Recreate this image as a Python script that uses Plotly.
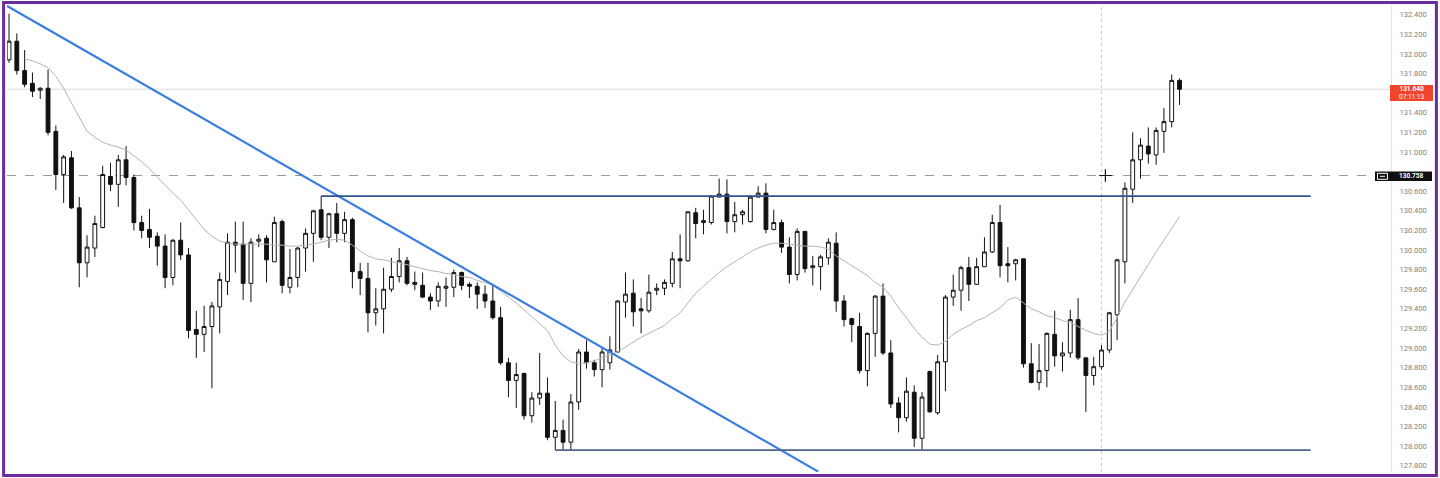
import plotly.graph_objects as go

# ---------------- data ----------------
opens = [131.94,132.13,131.83,131.70,131.63,131.65,131.21,130.77,130.94,130.43,
         129.87,130.02,130.23,130.75,130.67,130.92,130.74,130.28,130.21,130.14,
         130.04,129.72,130.10,129.95,129.19,129.14,129.22,129.42,129.68,130.08,
         130.06,129.66,130.09,130.12,129.88,130.29,129.62,129.72,130.02,130.17,
         130.41,130.13,130.37,130.17,130.31,129.78,129.71,129.36,129.40,129.60,
         129.73,129.89,129.67,129.64,129.52,129.48,129.61,129.62,129.77,129.65,
         129.63,129.55,129.48,129.31,128.85,128.67,128.74,128.31,128.49,128.54,
         128.09,128.16,128.04,128.45,128.96,128.85,128.78,128.85,128.96,129.47,
         129.56,129.40,129.38,129.59,129.61,129.66,129.91,129.89,130.38,130.28,
         130.28,130.54,130.57,130.29,130.36,130.29,130.54,130.58,130.21,130.28,
         130.03,129.75,130.19,129.82,129.83,129.92,130.07,129.48,129.30,129.22,
         128.77,129.15,129.53,128.95,128.44,128.29,128.55,128.08,128.76,128.34,
         128.86,129.52,129.59,129.82,129.65,129.83,129.98,130.28,129.86,129.86,
         129.91,128.84,128.65,128.77,129.14,128.92,128.95,129.29,128.90,128.72,
         128.81,128.98,129.34,129.88,130.62,130.92,131.06,130.97,131.21,131.31,
         131.73]
highs = [132.41,132.21,132.04,131.81,131.66,131.84,131.27,130.97,131.01,130.54,
         130.15,130.35,130.86,130.89,130.97,131.06,130.77,130.35,130.42,130.18,
         130.16,130.11,130.28,130.02,129.38,129.43,129.47,129.77,130.17,130.29,
         130.29,130.12,130.16,130.15,130.34,130.31,130.01,130.03,130.22,130.41,
         130.55,130.38,130.48,130.39,130.33,129.87,129.87,129.61,129.82,129.92,
         130.02,129.93,129.78,129.77,129.56,129.67,129.72,129.80,129.78,129.67,
         129.67,129.64,129.64,129.42,128.90,128.85,128.75,128.55,128.95,128.70,
         128.46,128.27,128.53,128.99,129.08,128.88,129.01,129.12,129.49,129.77,
         129.70,129.51,129.75,129.66,129.70,129.98,130.16,130.39,130.43,130.41,
         130.56,130.73,130.72,130.49,130.41,130.56,130.65,130.68,130.41,130.31,
         130.13,130.22,130.19,129.94,129.95,130.12,130.18,129.54,129.31,129.36,
         129.16,129.54,129.66,129.08,128.50,128.70,128.62,128.55,128.77,128.93,
         129.54,129.75,129.84,129.93,129.92,130.13,130.36,130.46,130.03,129.91,
         129.91,129.05,129.04,129.16,129.38,129.06,129.39,129.51,128.90,128.91,
         129.03,129.37,129.91,130.69,131.20,131.14,131.25,131.25,131.45,131.79,
         131.75]
lows = [131.91,131.79,131.66,131.56,131.54,131.17,130.61,130.48,130.42,129.62,
        129.72,129.93,130.22,130.60,130.44,130.66,130.20,130.12,130.02,129.84,
        129.61,129.64,129.90,129.10,128.90,128.96,128.59,129.15,129.54,129.77,
        129.49,129.47,130.03,129.67,129.88,129.56,129.56,129.62,129.78,129.88,
        130.10,130.02,130.08,130.08,129.61,129.54,129.16,129.23,129.15,129.57,
        129.67,129.64,129.59,129.51,129.39,129.42,129.42,129.52,129.59,129.51,
        129.40,129.41,129.29,128.83,128.50,128.39,128.27,128.24,128.42,128.06,
        127.96,127.96,127.96,128.37,128.79,128.71,128.60,128.78,128.95,129.31,
        129.22,129.15,129.36,129.54,129.54,129.62,129.61,129.88,130.12,130.16,
        130.26,130.54,130.17,130.18,130.26,130.28,130.54,130.17,130.20,129.97,
        129.66,129.69,129.77,129.64,129.59,129.85,129.37,129.22,129.06,128.74,
        128.61,128.91,128.93,128.39,128.14,128.25,127.99,127.96,128.34,128.32,
        128.56,129.43,129.38,129.48,129.65,129.83,129.97,129.72,129.67,129.69,
        128.80,128.64,128.57,128.60,128.81,128.76,128.90,128.88,128.35,128.62,
        128.78,128.95,129.08,129.66,130.48,130.73,130.88,130.87,130.99,131.25,
        131.48]
closes = [132.13,131.83,131.69,131.62,131.65,131.20,130.77,130.95,130.43,129.87,
          130.03,130.27,130.77,130.67,130.92,130.74,130.28,130.20,130.13,130.04,
          129.72,130.10,129.95,129.18,129.14,129.22,129.43,129.70,130.08,130.05,
          129.66,130.08,130.11,129.90,130.28,129.64,129.72,130.02,130.17,130.40,
          130.13,130.37,130.17,130.31,129.78,129.71,129.36,129.40,129.60,129.73,
          129.89,129.66,129.65,129.52,129.48,129.63,129.63,129.77,129.64,129.63,
          129.55,129.48,129.31,128.85,128.67,128.73,128.31,128.49,128.54,128.09,
          128.16,128.04,128.45,128.96,128.85,128.78,128.96,128.98,129.48,129.55,
          129.37,129.38,129.57,129.61,129.67,129.91,129.89,130.39,130.27,130.30,
          130.55,130.57,130.29,130.36,130.39,130.54,130.58,130.21,130.28,130.03,
          129.75,130.19,129.81,129.84,129.93,130.08,129.48,129.29,129.24,128.77,
          129.15,129.53,128.95,128.43,128.29,128.56,128.08,128.50,128.35,128.86,
          129.52,129.59,129.82,129.65,129.83,129.98,130.28,129.84,129.84,129.90,
          128.84,128.65,128.77,129.15,128.92,128.95,129.29,128.90,128.72,128.81,
          128.98,129.36,129.90,130.63,130.92,131.07,130.98,131.22,131.31,131.73,
          131.64]

# moving average (starts at candle index 2)
ma_start = 2
ma_values = [131.95,131.93,131.90,131.86,131.77,131.65,131.50,131.35,131.21,131.15,
             131.10,131.07,131.05,131.02,130.96,130.90,130.83,130.74,130.66,130.58,
             130.51,130.41,130.31,130.21,130.14,130.09,130.07,130.06,130.06,130.06,
             130.06,130.06,130.05,130.05,130.04,130.04,130.05,130.06,130.08,130.10,
             130.11,130.10,130.05,129.99,129.94,129.91,129.90,129.88,129.87,129.85,
             129.83,129.81,129.79,129.78,129.76,129.75,129.73,129.72,129.69,129.67,
             129.64,129.58,129.52,129.46,129.39,129.32,129.25,129.18,129.03,128.92,
             128.86,128.84,128.85,128.87,128.90,128.93,128.96,129.01,129.06,129.11,
             129.15,129.19,129.23,129.30,129.36,129.46,129.56,129.63,129.70,129.77,
             129.83,129.88,129.93,129.98,130.02,130.05,130.07,130.07,130.06,130.05,
             130.04,130.04,130.03,130.01,129.94,129.89,129.84,129.79,129.74,129.67,
             129.62,129.53,129.41,129.31,129.20,129.11,129.04,129.03,129.07,129.14,
             129.19,129.23,129.28,129.31,129.36,129.41,129.49,129.52,129.46,129.40,
             129.37,129.33,129.31,129.28,129.26,129.22,129.18,129.15,129.13,129.17,
             129.31,129.47,129.60,129.72,129.85,129.98,130.10,130.22,130.34]

# drawn lines (candle index, price)
trend_x = [-0.26, 103.7]
trend_y = [132.49, 127.74]
resistance_price = 130.55
resistance_x = [40, 166.8]
support_price = 127.96
support_x = [70, 166.8]
last_price = 131.64
last_price_text = "131.640"
countdown_text = "07:11:13"
cross_x = 140
cross_price = 130.76
cross_price_text = "130.758"

tick_vals = [127.8 + 0.2 * k for k in range(24)]
hidden_ticks = [131.6, 130.8]  # covered by the price labels
tick_text = ["" if any(abs(v - h) < 1e-6 for h in hidden_ticks) else f"{v:.3f}"
             for v in tick_vals]

# ---------------- figure ----------------
idx = list(range(len(opens)))
fig = go.Figure()

fig.add_trace(go.Candlestick(
    x=idx, open=opens, high=highs, low=lows, close=closes,
    increasing=dict(line=dict(color="#111111", width=1), fillcolor="#ffffff"),
    decreasing=dict(line=dict(color="#111111", width=1), fillcolor="#111111"),
    whiskerwidth=0, hoverinfo="skip", showlegend=False,
))

fig.add_trace(go.Scatter(
    x=list(range(ma_start, ma_start + len(ma_values))), y=ma_values,
    mode="lines", line=dict(color="#b4b4b4", width=1), hoverinfo="skip",
    showlegend=False,
))

fig.add_trace(go.Scatter(
    x=trend_x, y=trend_y, mode="lines",
    line=dict(color="#3a7de0", width=2.2), hoverinfo="skip", showlegend=False,
))

fig.add_trace(go.Scatter(
    x=resistance_x, y=[resistance_price, resistance_price], mode="lines",
    line=dict(color="#2d5392", width=1.6), hoverinfo="skip", showlegend=False,
))
fig.add_trace(go.Scatter(
    x=support_x, y=[support_price, support_price], mode="lines",
    line=dict(color="#4f6490", width=1.8), hoverinfo="skip", showlegend=False,
))

# crosshair marker
fig.add_trace(go.Scatter(
    x=[cross_x + 0.5], y=[cross_price], mode="markers",
    marker=dict(symbol="cross-thin", size=9, line=dict(color="#111", width=1.2)),
    hoverinfo="skip", showlegend=False,
))

W, H = 1440, 478
def px(v):
    return v / W
def py(v):
    return 1 - v / H

shapes = [
    # last price line
    dict(type="line", xref="x domain", yref="y", x0=0, x1=1, y0=last_price, y1=last_price,
         line=dict(color="#dcdcdc", width=1), layer="below"),
    # crosshair horizontal
    dict(type="line", xref="x domain", yref="y", x0=0, x1=1, y0=cross_price, y1=cross_price,
         line=dict(color="#9a9a9a", width=1, dash="dash"), layer="below"),
    # crosshair vertical
    dict(type="line", xref="x", yref="y domain", x0=cross_x, x1=cross_x, y0=0, y1=1,
         line=dict(color="#c8c8c8", width=1, dash="dot"), layer="below"),
    # red last-price box
    dict(type="rect", xref="paper", yref="paper", x0=px(1390), x1=px(1433),
         y0=py(101), y1=py(85), fillcolor="#f0452b", line=dict(width=0)),
    # black crosshair price box
    dict(type="rect", xref="paper", yref="paper", x0=px(1375), x1=px(1432),
         y0=py(181), y1=py(171.5), fillcolor="#111111", line=dict(width=0)),
    # icon inside black box
    dict(type="rect", xref="paper", yref="paper", x0=px(1377.5), x1=px(1387.5),
         y0=py(179.3), y1=py(173.3), line=dict(color="#ffffff", width=1)),
    dict(type="line", xref="paper", yref="paper", x0=px(1380), x1=px(1385),
         y0=py(176.3), y1=py(176.3), line=dict(color="#ffffff", width=1)),
    # purple frame
    dict(type="rect", xref="paper", yref="paper", x0=0.0025, x1=0.9975, y0=0.005, y1=0.995,
         line=dict(color="#6a2d9f", width=3)),
]

annotations = [
    dict(xref="paper", yref="paper", x=px(1411.5), y=py(93), xanchor="center", yanchor="middle",
         text=f"<b>{last_price_text}</b><br>{countdown_text}", showarrow=False,
         font=dict(family="Roboto, DejaVu Sans", size=6.5, color="#ffffff")),
    dict(xref="paper", yref="paper", x=px(1411), y=py(176.3), xanchor="center", yanchor="middle",
         text=f"<b>{cross_price_text}</b>", showarrow=False,
         font=dict(family="Roboto, DejaVu Sans", size=6.5, color="#ffffff")),
]

fig.update_layout(
    width=W, height=H,
    margin=dict(l=0, r=0, t=0, b=0),
    paper_bgcolor="#ffffff", plot_bgcolor="#ffffff",
    shapes=shapes, annotations=annotations,
    showlegend=False,
    xaxis=dict(domain=[7/W, 1391/W], range=[-0.26, 177.1], visible=False,
               rangeslider=dict(visible=False), showgrid=False, fixedrange=True),
    yaxis=dict(domain=[6/H, 473/H], range=[127.736, 132.499], side="right",
               tickvals=tick_vals, ticktext=tick_text, showgrid=False, zeroline=False,
               showline=True, linecolor="#e4e4e4", linewidth=1, ticks="",
               ticklabelstandoff=6,
               tickfont=dict(family="Roboto, DejaVu Sans", size=7.5, color="#808080"),
               fixedrange=True),
)

fig.write_html("out.html", config={"displayModeBar": False},
               post_script="document.body.style.margin='0';")
